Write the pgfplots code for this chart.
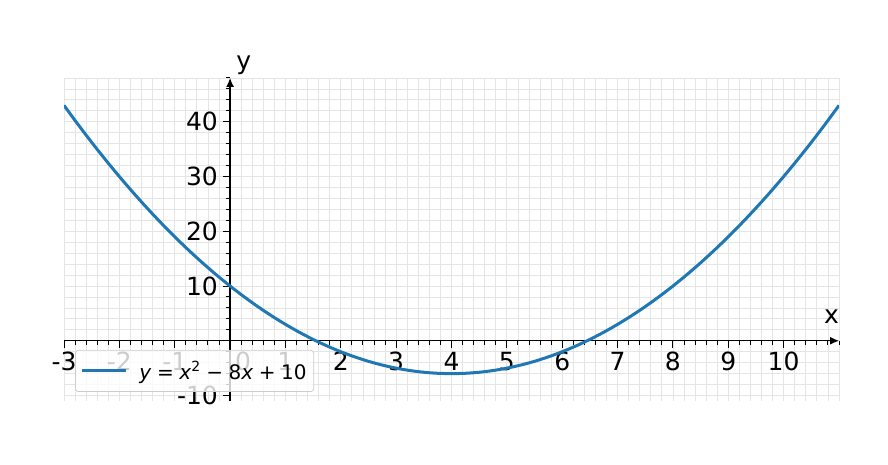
\documentclass[border=0pt]{standalone}
\usepackage{fontspec}
\setmainfont{DejaVu Sans}
\usepackage{pgfplots}
\pgfplotsset{compat=1.18}
\usetikzlibrary{arrows.meta}
\definecolor{mplblue}{HTML}{1F77B4}

\begin{document}
\begin{tikzpicture}
\begin{axis}[
    set layers,
    at={(64pt,63pt)}, anchor=south west,
    scale only axis,
    width=775pt, height=323pt,
    axis lines=middle,
    xmin=-3, xmax=11,
    ymin=-11, ymax=48,
    xtick={-3,...,10},
    xticklabels={-3,-2,-1,\hspace{26pt}0,1,2,3,4,5,6,7,8,9,10},
    hide obscured x ticks=false,
    ytick={-10,10,20,30,40},
    minor xtick={-3,-2.8,...,11},
    minor ytick={-10,-8,...,48},
    grid=both,
    major grid style={black!10, line width=0.8pt},
    minor grid style={black!10, line width=0.8pt},
    tick align=outside,
    major tick length=7pt,
    minor tick length=4pt,
    every tick/.style={black, line width=1pt},
    axis line style={black, line width=1.3pt, -{Latex[length=9pt,width=8pt]}},
    /pgf/number format/assume math mode=true,
    tick label style={font=\fontsize{25}{30}\selectfont},
    xticklabel style={inner sep=0pt, yshift=-4pt},
    yticklabel style={inner sep=0pt, xshift=-5pt},
    xlabel={x}, ylabel={y},
    every axis x label/.style={at={(axis description cs:1,0.1864)}, anchor=base east, inner sep=0pt, yshift=17pt, font=\fontsize{25}{30}\selectfont},
    every axis y label/.style={at={(axis description cs:0.2143,1)}, anchor=base west, inner sep=0pt, xshift=6pt, yshift=8pt, font=\fontsize{25}{30}\selectfont},
    legend style={at={(axis description cs:0.0142,0.0279)}, anchor=south west,
        draw=black!20, draw opacity=1, line width=0.8pt, rounded corners=3pt,
        fill=white, fill opacity=0.8, text opacity=1,
        font=\fontsize{20}{24}\selectfont, inner xsep=5pt, inner ysep=9pt},
    legend image code/.code={\draw[#1, line width=3pt] (0pt,0pt) -- (44pt,0pt);},
]
\addplot[mplblue, line width=3pt, smooth] coordinates {
    (-3,43) (-2.75,39.5625) (-2.5,36.25) (-2.25,33.0625) (-2,30)
    (-1.75,27.0625) (-1.5,24.25) (-1.25,21.5625) (-1,19) (-0.75,16.5625)
    (-0.5,14.25) (-0.25,12.0625) (0,10) (0.25,8.0625) (0.5,6.25)
    (0.75,4.5625) (1,3) (1.25,1.5625) (1.5,0.25) (1.75,-0.9375)
    (2,-2) (2.25,-2.9375) (2.5,-3.75) (2.75,-4.4375) (3,-5)
    (3.25,-5.4375) (3.5,-5.75) (3.75,-5.9375) (4,-6) (4.25,-5.9375)
    (4.5,-5.75) (4.75,-5.4375) (5,-5) (5.25,-4.4375) (5.5,-3.75)
    (5.75,-2.9375) (6,-2) (6.25,-0.9375) (6.5,0.25) (6.75,1.5625)
    (7,3) (7.25,4.5625) (7.5,6.25) (7.75,8.0625) (8,10)
    (8.25,12.0625) (8.5,14.25) (8.75,16.5625) (9,19) (9.25,21.5625)
    (9.5,24.25) (9.75,27.0625) (10,30) (10.25,33.0625) (10.5,36.25)
    (10.75,39.5625) (11,43)
};
\addlegendentry{\hspace{10pt}\textit{y}\;=\;\textit{x}\textsuperscript{2}\;−\;8\textit{x}\;+\;10}
\end{axis}
\path (0,0) rectangle (888pt,464pt);
\end{tikzpicture}
\end{document}
